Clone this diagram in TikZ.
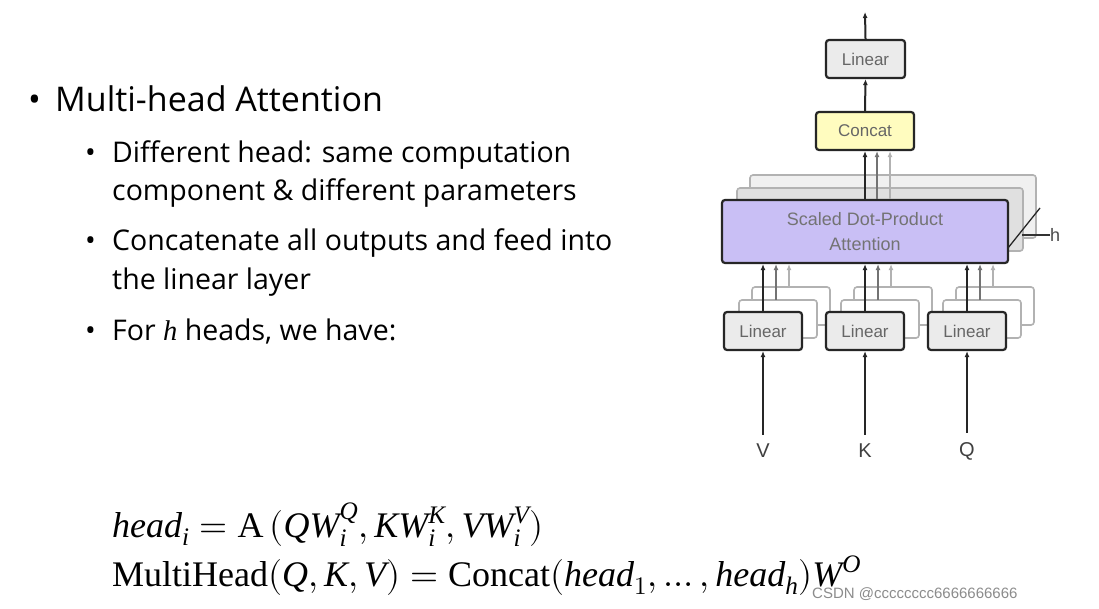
\documentclass[tikz,border=0pt]{standalone}
\usepackage{fontspec}
\usepackage{unicode-math}
\usetikzlibrary{arrows.meta}
\setmainfont{Open Sans}
\setmathfont{Latin Modern Math}
\setmathrm{Liberation Serif}
\setmathfont[range=it]{Liberation Serif Italic}
\newfontfamily\diag{Liberation Sans}
\begin{document}
\begin{tikzpicture}[x=1pt,y=-1pt,
  box/.style={draw=black!85,line width=2.2pt,rounded corners=3pt,minimum height=38pt,inner sep=0pt,font=\diag\fontsize{17}{19}\selectfont,text=black!60},
  arr/.style={line width=2pt,-{Latex[length=6pt,width=5pt]},black!85},
  larr/.style={line width=1.6pt,-{Latex[length=6pt,width=5pt]},black!30},
  txt/.style={anchor=base west,inner sep=0pt}]
\useasboundingbox (0,0) rectangle (1099,609);
\fill[white] (0,0) rectangle (1099,609);
% text
\node[txt,font=\fontsize{34}{36}\selectfont] (b0) at (28,112) {•};
\node[txt,font=\fontsize{34}{36}\selectfont] (t0) at (55,112) {Multi-head Attention};
\tikzset{sub/.style={txt,font=\fontsize{28.5}{31}\selectfont}}
\node[sub] (b1) at (85,163) {•};
\node[sub] (t1) at (112,163) {Different head: same computation};
\node[sub] (t1b) at (112,201) {component \& different parameters};
\node[sub] (b2) at (85,251) {•};
\node[sub] (t2) at (112,251) {Concatenate all outputs and feed into};
\node[sub] (t2b) at (112,290) {the linear layer};
\node[sub] (b3) at (85,340) {•};
\node[sub] (t3) at (112,340) {For $h$ heads, we have:};
% formulas
\node[txt,font=\fontsize{36}{38}\selectfont] (f1) at (112,537) {$head_i=\mathrm{A}\,(QW_i^Q,KW_i^K,VW_i^V)$};
\node[txt,font=\fontsize{36}{38}\selectfont] (f2) at (112,586) {$\mathrm{MultiHead}(Q,K,V)=\mathrm{Concat}(head_1,\ldots,head_h)W^O$};
\node[txt,font=\diag\fontsize{15}{16}\selectfont,text=black!45] (wm) at (812,598) {CSDN @cccccccc6666666666};
% diagram shadows
\foreach \dx/\dy/\c in {28/-25/black!6,15/-12/black!12}{
  \draw[draw=black!30,line width=1.6pt,rounded corners=3pt,fill=\c] (722+\dx,200+\dy) rectangle (1008+\dx,263+\dy);
  \foreach \x in {724,826,928}{
    \draw[draw=black!30,line width=1.6pt,rounded corners=3pt,fill=white] (\x+\dx,312+\dy) rectangle (\x+78+\dx,350+\dy);}
}
\node[box,fill=black!8,minimum width=79pt] (lt) at (865.5,59) {Linear};
\node[box,fill=yellow!25,minimum width=98pt] (cc) at (865,131) {Concat};
\node[box,fill=violet!30!blue!25,minimum width=286pt,minimum height=63pt,align=center,font=\diag\fontsize{18}{25}\selectfont,text=black!55] (sd) at (865,231.5) {Scaled Dot-Product\\Attention};
\node[box,fill=black!8,minimum width=78pt] (lv) at (763,331) {Linear};
\node[box,fill=black!8,minimum width=78pt] (lk) at (865,331) {Linear};
\node[box,fill=black!8,minimum width=78pt] (lq) at (967,331) {Linear};
\node[font=\diag\fontsize{20}{22}\selectfont,text=black!75] (v) at (763,451) {V};
\node[font=\diag\fontsize{20}{22}\selectfont,text=black!75] (k) at (865,451) {K};
\node[font=\diag\fontsize{20}{22}\selectfont,text=black!75] (q) at (967,451) {Q};
\coordinate (out) at (865,12);
\draw[arr] (lt.north) -- (out);
\draw[arr] (cc.north) -- (lt.south);
\draw[larr] ([xshift=25pt]sd.north) -- ([xshift=25pt]cc.south);
\draw[larr,black!55] ([xshift=12pt]sd.north) -- ([xshift=12pt]cc.south);
\draw[arr] (sd.north) -- (cc.south);
\foreach \n in {lv,lk,lq}{
  \draw[larr] ([xshift=26pt]\n.north |- 0,288) -- ([xshift=26pt]\n.north |- sd.south);
  \draw[larr,black!55] ([xshift=13pt]\n.north |- 0,300) -- ([xshift=13pt]\n.north |- sd.south);
  \draw[arr] (\n.north) -- (\n.north |- sd.south);
}
\draw[arr] ([yshift=6pt]v.north) -- (lv.south);
\draw[arr] ([yshift=6pt]k.north) -- (lk.south);
\draw[arr] ([yshift=6pt]q.north) -- (lq.south);
\node[font=\diag\fontsize{18}{20}\selectfont,text=black!70,anchor=west,inner sep=0pt] (h) at (1050,235) {h};
\coordinate (hl) at (1022,235);
\draw[line width=1.3pt,black!80] (h.west) -- (hl);
\draw[line width=1.3pt,black!85] (1040,208) -- (1008,248);
\end{tikzpicture}
\end{document}
